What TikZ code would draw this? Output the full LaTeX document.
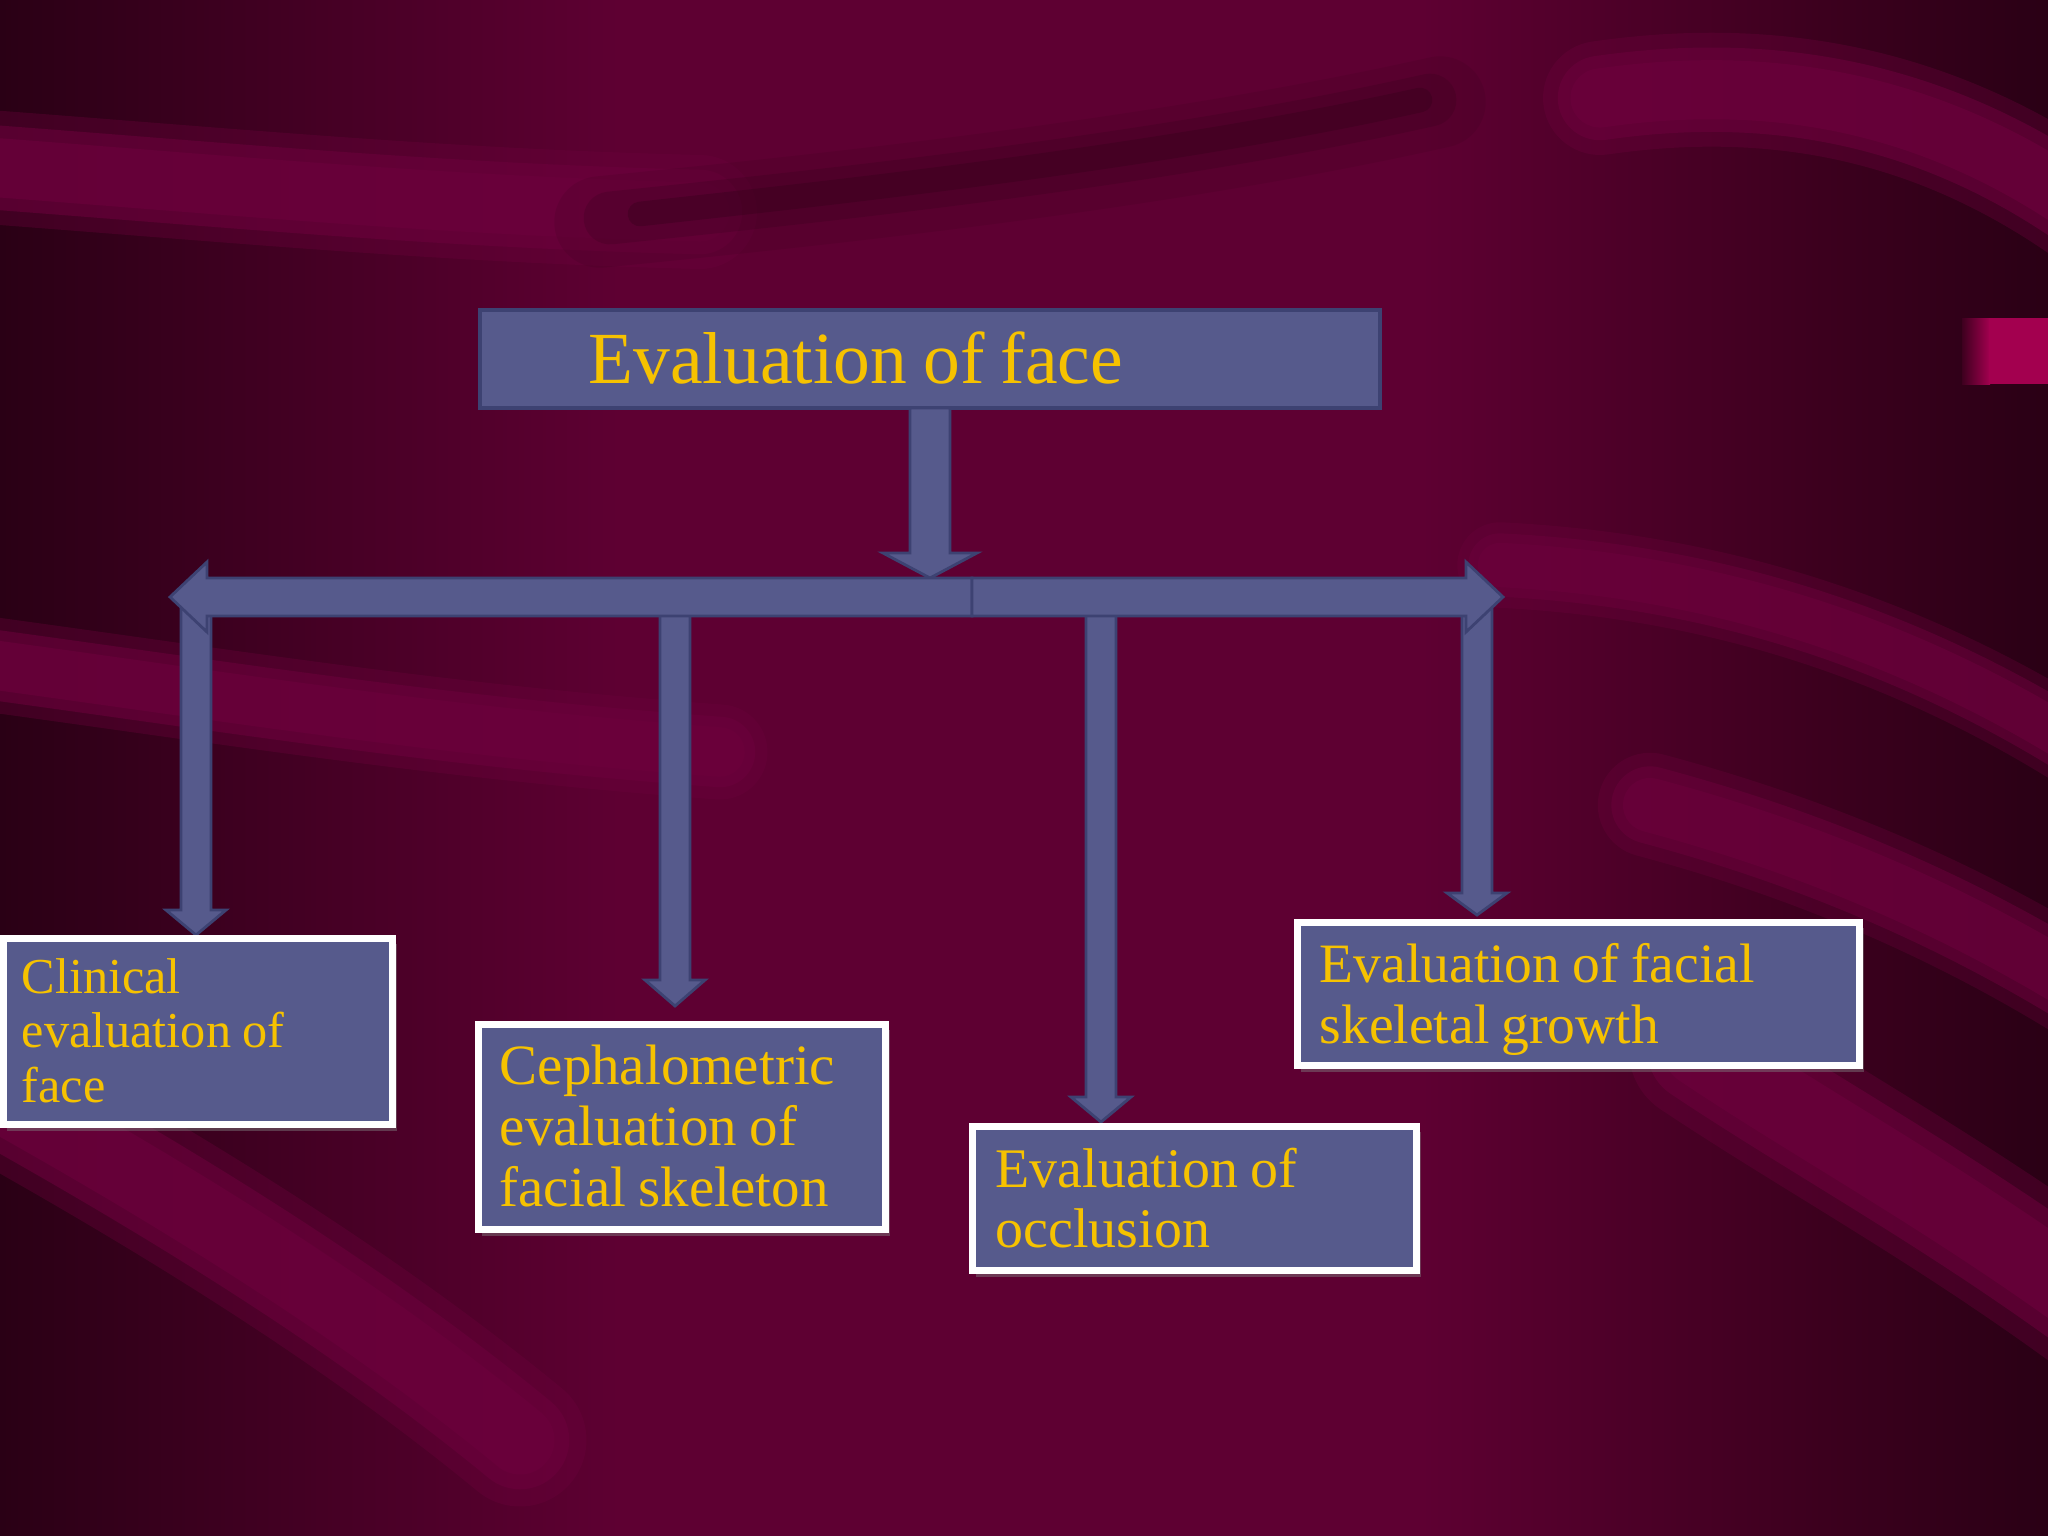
\documentclass[tikz,border=0pt]{standalone}
\usepackage{fontspec}
\setmainfont{Liberation Serif}
\usetikzlibrary{shadows,calc,fadings}
\definecolor{bgmid}{HTML}{5E0032}
\definecolor{bgdark}{HTML}{2A0015}
\definecolor{bgdeep}{HTML}{3E001F}
\definecolor{bandc}{HTML}{6C003C}
\definecolor{shadowc}{HTML}{2E0017}
\definecolor{pinkc}{HTML}{A3004F}
\definecolor{boxfill}{HTML}{565A8C}
\definecolor{boxedge}{HTML}{3D4272}
\definecolor{txt}{HTML}{F6C200}
\newcommand{\vblockarrow}[4]{% x, ytop, yhead, ytip
  \filldraw[blockarrow] ({#1-15},#2) -- ({#1+15},#2) -- ({#1+15},#3) -- ({#1+30},#3) -- (#1,#4) -- ({#1-30},#3) -- ({#1-15},#3) -- cycle;}
\newcommand{\ribbonpath}[3]{% width(pt), opacity, path
  \draw[ribbon, line width={#1*1.35pt}, draw opacity={#2*0.35}] #3;
  \draw[ribbon, line width={#1*1pt}, draw opacity={#2*0.55}] #3;
  \draw[ribbon, line width={#1*0.7pt}, draw opacity={#2*0.6}] #3;}
\newcommand{\tightspace}{\spaceskip=0.22em\relax\xspaceskip=0.22em\relax}
\tikzset{
  blockarrow/.style={fill=boxfill, draw=boxedge, line width=0.8pt, line join=miter},
  ribbon/.style={draw=bandc, line cap=round},
  leafbox/.style={draw=white, line width=2pt, fill=boxfill, inner sep=0pt, outer sep=0pt,
     drop shadow={shadow xshift=0.4mm, shadow yshift=-0.6mm, opacity=0.45}},
  headbox/.style={draw=boxedge, line width=1.1pt, fill=boxfill, inner sep=0pt, outer sep=0pt},
  label/.style={text=txt, anchor=base west, inner sep=0pt, text width=7cm,
     execute at begin node=\tightspace},
}
\begin{document}
\begin{tikzpicture}[x=0.01cm, y=-0.01cm]
\useasboundingbox (0,0) rectangle (2048,1536);
% background
\fill[bgdark] (0,0) rectangle (2048,1536);
\shade[left color=bgdark, right color=bgmid] (0,0) rectangle (620,1536);
\fill[bgmid] (619,0) rectangle (1421,1536);
\shade[left color=bgmid, right color=bgdeep] (1420,0) rectangle (1800,1536);
\shade[left color=bgdeep, right color=bgdark] (1799,0) rectangle (2048,1536);
\begin{scope}
\clip (0,0) rectangle (2048,1536);
% top ribbon, left part
\begin{scope}[transparency group, path fading=east]
\ribbonpath{24}{1}{(-80,162) .. controls (200,182) and (420,205) .. (700,212)}
\end{scope}
% dark fold shadow
\draw[draw=shadowc, line width=26pt, draw opacity=0.12, line cap=round] (600,222) .. controls (800,202) and (1150,167) .. (1440,102);
\draw[draw=shadowc, line width=15pt, draw opacity=0.2, line cap=round] (610,218) .. controls (800,198) and (1150,163) .. (1430,100);
\draw[draw=shadowc, line width=7pt, draw opacity=0.3, line cap=round] (640,214) .. controls (800,196) and (1150,160) .. (1420,100);
% top ribbon, right part
\ribbonpath{24}{1}{(1600,98) .. controls (1760,75) and (1930,95) .. (2100,220)}
% middle ribbons
\begin{scope}[transparency group, path fading=east]
\ribbonpath{20}{1}{(-80,655) .. controls (200,692) and (420,730) .. (720,752)}
\end{scope}
\ribbonpath{18}{0.9}{(1500,565) .. controls (1700,575) and (1900,630) .. (2100,760)}
\ribbonpath{22}{0.9}{(1650,805) .. controls (1800,845) and (1950,905) .. (2100,1000)}
% bottom ribbons
\begin{scope}[transparency group, path fading=south]
\ribbonpath{28}{1}{(-40,1075) .. controls (150,1180) and (350,1300) .. (520,1440)}
\end{scope}
\ribbonpath{30}{1}{(1700,1050) .. controls (1820,1130) and (1950,1200) .. (2100,1310)}
\end{scope}
% pink fragment at right edge
\shade[left color=bgdeep, right color=pinkc] (1962,318) rectangle (1990,384);
\fill[pinkc] (1989,318) rectangle (2048,384);

% title box
\node[headbox, minimum width=9.00cm, minimum height=0.98cm] (top) at (930,359) {};
\node[label, font=\fontsize{20.9pt}{24pt}\selectfont] (toptext) at (588,383) {Evaluation of face};

% connector from title to bar
\filldraw[blockarrow] ($(top.south)+(-20,0)$) -- ($(top.south)+(20,0)$) -- (950,553) -- (977,553) -- (930,578) -- (883,553) -- (910,553) -- cycle;
\coordinate (split) at (972,597);

% vertical branch arrows (drawn below the bar)
\vblockarrow{196}{600}{910}{935}
\vblockarrow{675}{600}{980}{1006}
\vblockarrow{1101}{600}{1097}{1122}
\vblockarrow{1477}{600}{893}{915}

% horizontal bar (two arrows meeting at split)
\filldraw[blockarrow] (split |- 0,578) -- (207,578) -- (207,562) -- (170,597) -- (207,632) -- (207,616) -- (split |- 0,616) -- cycle;
\filldraw[blockarrow] (split |- 0,578) -- (1466,578) -- (1466,562) -- (1503,597) -- (1466,632) -- (1466,616) -- (split |- 0,616) -- cycle;

% leaf boxes
\node[leafbox, minimum width=3.89cm, minimum height=1.86cm] (b1) at (198,1031.5) {};
\node[leafbox, minimum width=4.07cm, minimum height=2.05cm] (b2) at (682,1127) {};
\node[leafbox, minimum width=4.44cm, minimum height=1.44cm] (b3) at (1194.5,1198.5) {};
\node[leafbox, minimum width=5.62cm, minimum height=1.43cm] (b4) at (1578.5,994) {};

\node[label, font=\fontsize{14.3pt}{15.5pt}\selectfont] (t1) at (21,993) {Clinical\\evaluation of\\face};
\node[label, font=\fontsize{16.2pt}{17.4pt}\selectfont] (t2) at (499,1084) {Cephalometric\\evaluation of\\facial skeleton};
\node[label, font=\fontsize{15.9pt}{17.1pt}\selectfont] (t3) at (995,1187) {Evaluation of\\occlusion};
\node[label, font=\fontsize{15.8pt}{17.4pt}\selectfont] (t4) at (1319,982) {Evaluation of facial\\skeletal growth};
\end{tikzpicture}
\end{document}
